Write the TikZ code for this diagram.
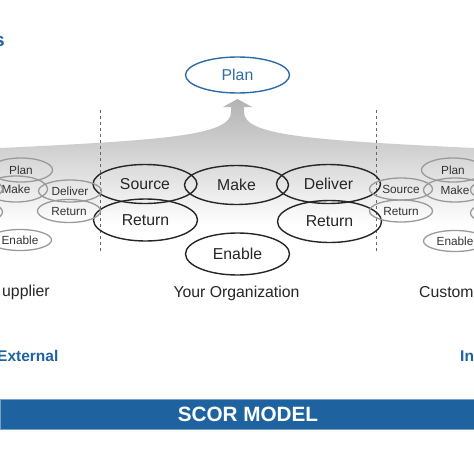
\documentclass[tikz,border=0pt]{standalone}
\usepackage{fontspec}
\setmainfont{Liberation Sans}
\usetikzlibrary{shapes.geometric}

\definecolor{scorblue}{HTML}{1E63A0}
\definecolor{planblue}{HTML}{2D6CA6}
\definecolor{ringgray}{HTML}{9A9A9A}

\begin{document}
\begin{tikzpicture}[x=1pt, y=-1pt]
    \tikzstyle{big} = [ellipse, draw=black!85, line width=1.4pt, minimum width=104pt, minimum height=39pt, inner sep=0pt, text=black!85, font=\fontsize{15.8}{18}\selectfont]
    \tikzstyle{small} = [ellipse, draw=ringgray, line width=1.3pt, minimum width=63pt, minimum height=23pt, inner sep=0pt, text=black!80, font=\fontsize{11.8}{13}\selectfont]
    \tikzstyle{words} = [inner sep=0pt, text=black!85, font=\fontsize{15.8}{18}\selectfont]
    \tikzstyle{side} = [inner sep=0pt, text=scorblue, font=\bfseries\fontsize{15.5}{18}\selectfont]

    \useasboundingbox (0,0) rectangle (474,474);
    \clip (0,0) rectangle (474,474);

    % grey band with the arrow up to Plan
    \shade [top color=black!30, bottom color=white]
        (0,148) .. controls (170,140) and (231,135) .. (231,112)
        -- (231,107) -- (223,107) -- (237.5,99) -- (252,107) -- (244,107) -- (244,112)
        .. controls (244,135) and (305,140) .. (474,148)
        -- (474,225) -- (0,225) -- cycle;

    \draw [dashed, black!60, line width=0.9pt, dash pattern=on 3pt off 3pt] (100,110) -- (100,253);
    \draw [dashed, black!60, line width=0.9pt, dash pattern=on 3pt off 3pt] (376,110) -- (376,253);

    \node (a) at (237.5,75) [ellipse, draw=planblue, line width=1.4pt, minimum width=104pt, minimum height=36pt, inner sep=0pt, text=planblue, font=\fontsize{15.8}{18}\selectfont] {Plan};

    % your organization
    \node[big] (b) at (145,184) {Source};
    \node[big] (c) at (236.5,185) {Make};
    \node[big] (d) at (328.5,184) {Deliver};
    \node[big, minimum height=42pt] (e) at (145.5,220) {Return};
    \node[big, minimum height=42pt] (f) at (329.5,221.5) {Return};
    \node[big, minimum height=42pt] (g) at (237.5,254) {Enable};
    \node[words] (h) at (236.5,293) {Your Organization};

    % supplier
    \node[small, minimum height=24pt] (i) at (21,170) {Plan};
    \node[small, minimum height=26pt] (j) at (16,189) {Make};
    \node[small] (k) at (-29,189) {};
    \node[small] (l) at (-29,212) {};
    \node[small, minimum height=22pt] (m) at (70,191) {Deliver};
    \node[small] (n) at (69,211) {Return};
    \node[small, minimum height=21pt] (o) at (20,240) {Enable};
    \node[words, anchor=west] (p) at (2,292) {upplier};

    % customer
    \node[small, minimum height=22pt] (q) at (401,189) {Source};
    \node[small, minimum height=22pt] (r) at (401,211) {Return};
    \node[small, minimum height=24pt] (s) at (453,170) {Plan};
    \node[small, minimum height=24pt] (t) at (455,190) {Make};
    \node[small] (u) at (502,190) {};
    \node[small] (v) at (502,213) {};
    \node[small, minimum height=21pt] (w) at (455,241) {Enable};
    \node[words, anchor=west] (x) at (419,292) {Custom};

    \node[side, anchor=east, font=\bfseries\fontsize{19}{22}\selectfont] (y) at (5,41) {s};
    \node[side, anchor=west] (z) at (-3,356) {External};
    \node[side, anchor=west] (zz) at (460,356) {In};

    \node (bar) at (248,414) [rectangle, fill=scorblue, draw=scorblue!60!white, line width=0.6pt, minimum width=496pt, minimum height=30pt, inner sep=0pt, text=white, font=\bfseries\fontsize{20.7}{24}\selectfont] {SCOR MODEL};
\end{tikzpicture}
\end{document}
